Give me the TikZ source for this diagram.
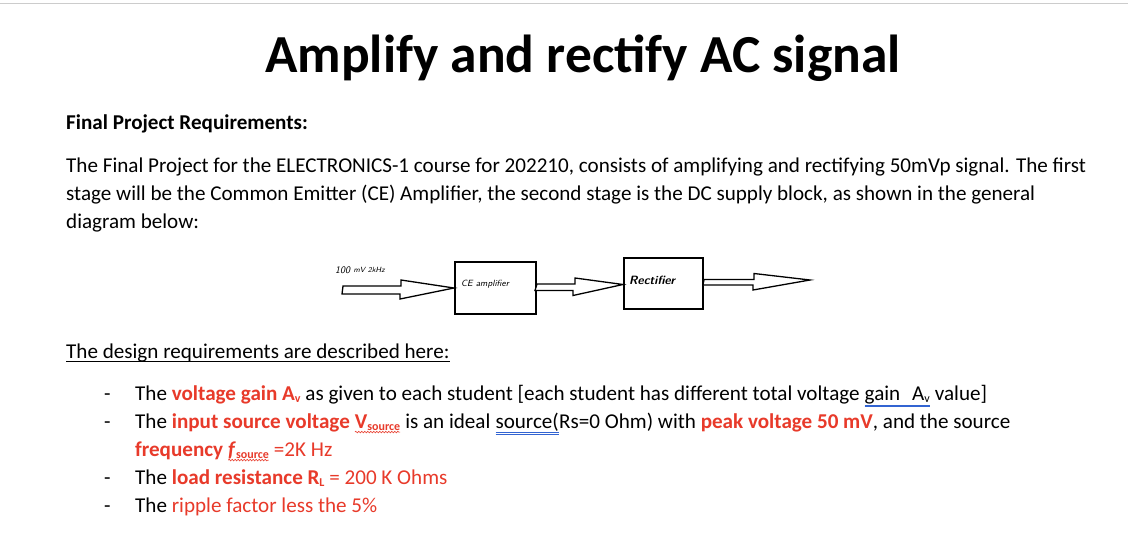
\documentclass[tikz,border=0pt]{standalone}
\usepackage{fontspec}
\setmainfont{Carlito}
\usetikzlibrary{decorations.pathmorphing}
\definecolor{rd}{RGB}{232,58,42}
\definecolor{bl}{RGB}{50,100,210}
\newcommand\mysb[1]{\raisebox{-2.5pt}{\fontsize{12}{12}\selectfont #1}}
\newcommand\myrwave[1]{\tikz[baseline=(w.base)]{\node[inner sep=0pt,outer sep=0pt](w){#1};\draw[rd,line width=0.6pt,decorate,decoration={snake,amplitude=0.8pt,segment length=3pt}] ([yshift=-1.5pt]w.south west)--([yshift=-1.5pt]w.south east);}}
\newcommand\mybdbl[1]{\tikz[baseline=(w.base)]{\node[inner sep=0pt,outer sep=0pt](w){#1};\draw[bl,line width=0.6pt] ([yshift=-1.5pt]w.south west)--([yshift=-1.5pt]w.south east) ([yshift=-3pt]w.south west)--([yshift=-3pt]w.south east);}}
\begin{document}
\begin{tikzpicture}[x=1pt,y=-1pt,
  txt/.style={anchor=base west,inner sep=0pt,font=\fontsize{21.1}{25}\selectfont},
  blk/.style={draw,line width=2pt,inner sep=0pt},
  fat/.style={draw,line width=1.3pt,fill=white}]
\useasboundingbox (0,0) rectangle (1128,538);
\fill[white] (0,0) rectangle (1128,538);
\draw[gray!40,line width=1pt] (0,3) -- (1128,3);
\node[anchor=base,inner sep=0pt,font=\fontsize{53.5}{60}\selectfont\bfseries] (title) at (583,72) {Amplify and rectify AC signal};
\node[txt,font=\fontsize{21.1}{25}\selectfont\bfseries] (req) at (66,129) {Final Project Requirements:};
\node[txt] (p1) at (66,172) {The Final Project for the ELECTRONICS-1 course for 202210, consists of amplifying and rectifying 50mVp signal. The first};
\node[txt] (p2) at (66,200) {stage will be the Common Emitter (CE) Amplifier, the second stage is the DC supply block, as shown in the general};
\node[txt] (p3) at (66,228) {diagram below:};
% diagram
\node[blk,minimum width=81pt,minimum height=52pt] (ce) at (495.5,288) {};
\node[anchor=west,inner sep=0pt,font=\sffamily\itshape\fontsize{9}{10}\selectfont] at (461,284) {CE amplifier};
\node[blk,minimum width=79pt,minimum height=51pt] (rect) at (663.5,283.5) {};
\node[anchor=west,inner sep=0pt,font=\sffamily\bfseries\itshape\fontsize{12}{13}\selectfont] at (629,280) {Rectifier};
\node[anchor=base west,inner sep=0pt,font=\sffamily\itshape\fontsize{10}{11}\selectfont] (inl) at (335,273) {100 \raisebox{1pt}{\fontsize{7.5}{8}\selectfont mV 2kHz}};
\coordinate (in) at (343,290);
\coordinate (out) at (810,280);
\draw[fat] (in)++(0,-4) -- ++(58,0) -- ++(0,-6) -- (ce.west) -- ++(-54,11) -- ++(0,-5) -- ++(-58,0) -- cycle;
\draw[fat] (ce.east)++(0,-4) -- ++(38,0) -- ++(0,-6) -- ([yshift=-1]rect.west) -- ++(-50,11) -- ++(0,-5) -- ++(-38,0) -- cycle;
\draw[fat] (rect.east)++(0,-4) -- ++(50,0) -- ++(0,-6) -- (out) -- ++(-57,10) -- ++(0,-5) -- ++(-50,0) -- cycle;
% design
\node[txt] (des) at (66,358) {The design requirements are described here:};
\draw[line width=0.9pt] ([yshift=-3pt]des.base west) -- ([yshift=-3pt]des.base east);
\foreach \y in {400,428,484,512} \node[txt] at (104,\y) {-};
\node[txt] (b1) at (135,400) {The \textcolor{rd}{\bfseries voltage gain A\mysb{v}} as given to each student [each student has different total voltage \mybdbl{gain\,\, A\mysb{v}} value]};
\node[txt] (b2) at (135,428) {The \textcolor{rd}{\bfseries input source voltage \myrwave{V\mysb{source}}} is an ideal \mybdbl{source(}Rs=0 Ohm) with \textcolor{rd}{\bfseries peak voltage 50 mV}, and the source};
\node[txt] (b3) at (135,456) {\textcolor{rd}{\bfseries frequency \myrwave{\textit{f}\mysb{source}}} \textcolor{rd}{=2K Hz}};
\node[txt] (b4) at (135,484) {The \textcolor{rd}{\bfseries load resistance R\mysb{L}} \textcolor{rd}{= 200 K Ohms}};
\node[txt] (b5) at (135,512) {The \textcolor{rd}{ripple factor less the 5\%}};
\end{tikzpicture}
\end{document}
